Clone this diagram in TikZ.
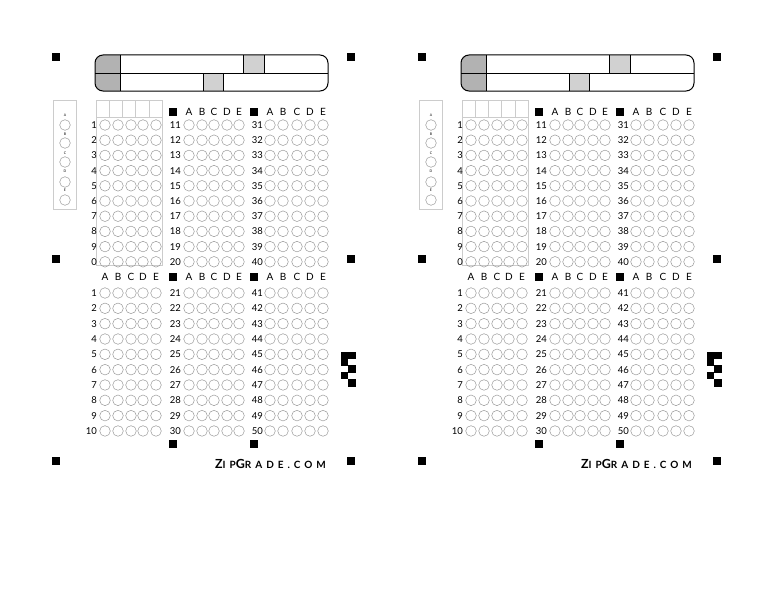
\documentclass[tikz,border=0pt]{standalone}
\usepackage{fontspec}
\setmainfont{Lato}
\newfontfamily\brandfont[LetterSpace=40]{Lato}
\begin{document}
\begin{tikzpicture}[x=1pt,y=-1pt,
  bub/.style={draw=black!40,line width=0.5pt},
  num/.style={anchor=east,inner sep=0pt,font=\fontsize{9.5}{10}\selectfont},
  hdr/.style={inner sep=0pt,font=\fontsize{10}{10}\selectfont}]
\useasboundingbox (0,0) rectangle (768,594);
\newcommand\bubcol[5]{%
  \foreach \i [count=\k from 0] in {#4} {
    \node[num] at (#5,#2+\k*#3) {\i};
    \foreach \bx in {#1} \draw[bub] (\bx,#2+\k*#3) circle (5.3);
  }}
\newcommand\sheet[1]{%
\begin{scope}[xshift=#1]
 \foreach \p in {(56,57),(351,57),(56,259),(351,259),(56,461),(351,461)} {\fill \p +(-4,-4) rectangle +(4,4);}
 \fill[black!30] (95,73) -- (95,63) arc(180:270:8) -- (120,55) -- (120,91) -- (103,91) arc(90:180:8) -- cycle;
 \fill[black!18] (243,55) rectangle (264,73);
 \fill[black!18] (203,73) rectangle (223,91);
 \draw[line width=1pt,rounded corners=8] (95,55) rectangle (328,91);
 \draw[line width=0.8pt] (95,73)--(328,73) (120,55)--(120,91) (243,55)--(243,73) (264,55)--(264,73) (203,73)--(203,91) (223,73)--(223,91);
 \draw[black!20] (53,100) rectangle (76,209);
 \foreach \l/\ly/\cy in {A/115/125,B/134/143,C/153/162,D/171/182,E/190/200} {
   \node[inner sep=0pt,font=\fontsize{3.5}{4}\selectfont] at (65,\ly) {\l};
   \draw[bub] (65,\cy) circle (5.3);}
 \draw[black!20] (96,100) rectangle (162,265);
 \foreach \cx in {96,109.2,122.4,135.6,148.8,162} \draw[black!20] (\cx,100)--(\cx,117);
 \draw[black!20] (96,117)--(162,117);
 \bubcol{105,118,131,143,156}{125}{15.2}{1,2,3,4,5,6,7,8,9,0}{97}
 \bubcol{189,202,214,227,239}{125}{15.2}{11,12,13,14,15,16,17,18,19,20}{181}
 \bubcol{270,283,297,310,323}{125}{15.2}{31,32,33,34,35,36,37,38,39,40}{263}
 \foreach \l/\a/\b in {A/189/270,B/202/283,C/214/297,D/227/310,E/239/323} {
   \node[hdr] at (\a,112) {\l}; \node[hdr] at (\b,112) {\l};}
 \fill (169,108) rectangle (177,116); \fill (250,108) rectangle (258,116);
 \bubcol{105,118,131,143,156}{293}{15.33}{1,2,3,4,5,6,7,8,9,10}{97}
 \bubcol{189,202,214,227,239}{293}{15.33}{21,22,23,24,25,26,27,28,29,30}{181}
 \bubcol{270,283,297,310,323}{293}{15.33}{41,42,43,44,45,46,47,48,49,50}{263}
 \foreach \l/\o/\a/\b in {A/105/189/270,B/118/202/283,C/131/214/297,D/143/227/310,E/156/239/323} {
   \node[hdr] at (\o,277) {\l}; \node[hdr] at (\a,277) {\l}; \node[hdr] at (\b,277) {\l};}
 \fill (169,273) rectangle (177,281); \fill (250,273) rectangle (258,281);
 \fill (169,440) rectangle (177,448); \fill (250,440) rectangle (258,448);
 \fill (341,352) rectangle (356,359);
 \fill (341,359) rectangle (348,366);
 \fill (348,365) rectangle (356,373);
 \fill (341,372) rectangle (348,379);
 \fill (348,379) rectangle (356,387);
 \node[anchor=east,inner sep=0pt,font=\brandfont\bfseries\fontsize{12.5}{13}\selectfont] at (326,464) {Z{\fontsize{10}{10}\selectfont IP}G{\fontsize{10}{10}\selectfont RADE.COM}};
\end{scope}}
\sheet{0}
\sheet{366}
\end{tikzpicture}
\end{document}
